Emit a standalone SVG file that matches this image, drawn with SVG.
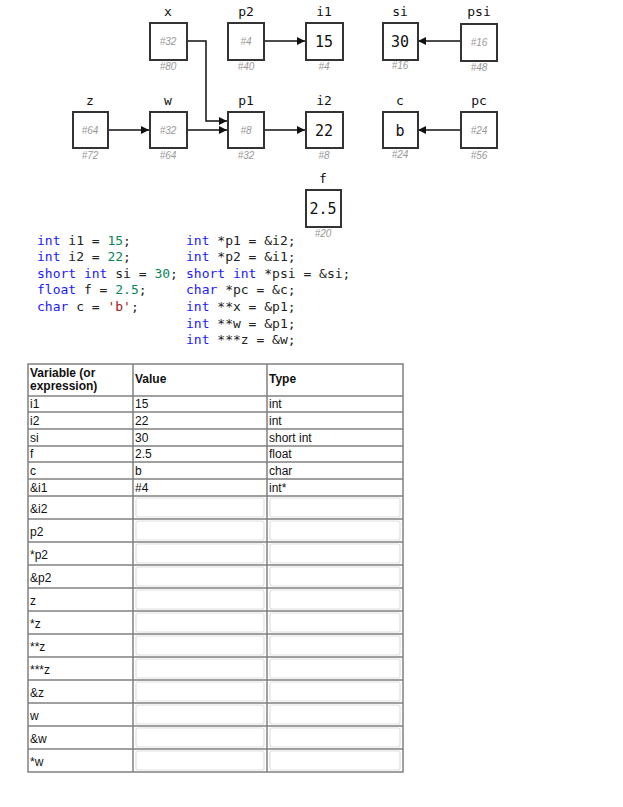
<svg xmlns="http://www.w3.org/2000/svg" width="623" height="807" viewBox="0 0 623 807">
<defs>
<style>
.box{fill:#fff;stroke:#333;stroke-width:2}
.nm{font-family:"DejaVu Sans Mono",monospace;font-size:13px;fill:#111;text-anchor:middle}
.val{font-family:"DejaVu Sans Mono",monospace;font-size:15px;fill:#111;text-anchor:middle}
.ad{font-family:"Liberation Sans",Arial,sans-serif;font-size:10px;font-style:italic;fill:#999;text-anchor:middle}
.cn{stroke:#111;stroke-width:1.5;fill:none;marker-end:url(#ah)}
.code{font-family:"DejaVu Sans Mono",monospace;font-size:13px;fill:#222}
.kw{fill:#1a1aff}.num{fill:#098658}.str{fill:#a31515}
.tb{font-family:"Liberation Sans",Arial,sans-serif;font-size:12px;fill:#111}
.th{font-family:"Liberation Sans",Arial,sans-serif;font-size:12px;font-weight:bold;fill:#111}
.gl{stroke:#808080;stroke-width:1.5}
.inp{fill:#fff;stroke:#e0e0e0;stroke-width:1.2}
</style>
<marker id="ah" viewBox="0 0 10 10" refX="10" refY="5" markerWidth="12" markerHeight="8" markerUnits="userSpaceOnUse" orient="auto"><path d="M0,0L10,5L0,10z" fill="#111"/></marker>
</defs>
<g id="connectors">
<path class="cn" d="M187,41H206V121H227"/>
<path class="cn" d="M264,41H305"/>
<path class="cn" d="M108,130H149"/>
<path class="cn" d="M187,130H227"/>
<path class="cn" d="M264,130H305"/>
<path class="cn" d="M461,41H418"/>
<path class="cn" d="M461,130H418"/>
</g>
<g id="node-x"><text class="nm" x="168" y="16">x</text><rect class="box" x="150" y="23" width="37" height="37"/><text class="ad" x="168" y="45">#32</text><text class="ad" x="168" y="70">#80</text></g>
<g id="node-p2"><text class="nm" x="246" y="16">p2</text><rect class="box" x="228" y="23" width="36" height="37"/><text class="ad" x="246" y="45">#4</text><text class="ad" x="246" y="70">#40</text></g>
<g id="node-i1"><text class="nm" x="324" y="16">i1</text><rect class="box" x="306" y="23" width="37" height="37"/><text class="val" x="324" y="47">15</text><text class="ad" x="324" y="70">#4</text></g>
<g id="node-si"><text class="nm" x="400" y="16">si</text><rect class="box" x="383" y="23" width="35" height="37"/><text class="val" x="400" y="47">30</text><text class="ad" x="400" y="69">#16</text></g>
<g id="node-psi"><text class="nm" x="479" y="16">psi</text><rect class="box" x="461" y="24" width="36" height="37"/><text class="ad" x="479" y="46">#16</text><text class="ad" x="479" y="71">#48</text></g>
<g id="node-z"><text class="nm" x="90" y="105">z</text><rect class="box" x="73" y="112" width="35" height="36"/><text class="ad" x="90" y="134">#64</text><text class="ad" x="90" y="159">#72</text></g>
<g id="node-w"><text class="nm" x="168" y="105">w</text><rect class="box" x="150" y="112" width="37" height="36"/><text class="ad" x="168" y="134">#32</text><text class="ad" x="168" y="159">#64</text></g>
<g id="node-p1"><text class="nm" x="246" y="105">p1</text><rect class="box" x="228" y="112" width="36" height="36"/><text class="ad" x="246" y="134">#8</text><text class="ad" x="246" y="159">#32</text></g>
<g id="node-i2"><text class="nm" x="324" y="105">i2</text><rect class="box" x="306" y="112" width="37" height="36"/><text class="val" x="324" y="136">22</text><text class="ad" x="324" y="159">#8</text></g>
<g id="node-c"><text class="nm" x="400" y="105">c</text><rect class="box" x="383" y="112" width="35" height="36"/><text class="val" x="400" y="136">b</text><text class="ad" x="400" y="158">#24</text></g>
<g id="node-pc"><text class="nm" x="479" y="105">pc</text><rect class="box" x="461" y="112" width="36" height="36"/><text class="ad" x="479" y="134">#24</text><text class="ad" x="479" y="159">#56</text></g>
<g id="node-f"><text class="nm" x="323" y="183">f</text><rect class="box" x="306" y="190" width="35" height="37"/><text class="val" x="323" y="214">2.5</text><text class="ad" x="323" y="237">#20</text></g>
<g id="code">
<text class="code" x="37" y="245"><tspan class="kw">int</tspan> i1 = <tspan class="num">15</tspan>;</text>
<text class="code" x="37" y="261"><tspan class="kw">int</tspan> i2 = <tspan class="num">22</tspan>;</text>
<text class="code" x="37" y="278"><tspan class="kw">short</tspan> <tspan class="kw">int</tspan> si = <tspan class="num">30</tspan>;</text>
<text class="code" x="37" y="294"><tspan class="kw">float</tspan> f = <tspan class="num">2.5</tspan>;</text>
<text class="code" x="37" y="311"><tspan class="kw">char</tspan> c = <tspan class="str">'b'</tspan>;</text>
<text class="code" x="186" y="245"><tspan class="kw">int</tspan> *p1 = &amp;i2;</text>
<text class="code" x="186" y="261"><tspan class="kw">int</tspan> *p2 = &amp;i1;</text>
<text class="code" x="186" y="278"><tspan class="kw">short</tspan> <tspan class="kw">int</tspan> *psi = &amp;si;</text>
<text class="code" x="186" y="294"><tspan class="kw">char</tspan> *pc = &amp;c;</text>
<text class="code" x="186" y="311"><tspan class="kw">int</tspan> **x = &amp;p1;</text>
<text class="code" x="186" y="328"><tspan class="kw">int</tspan> **w = &amp;p1;</text>
<text class="code" x="186" y="344"><tspan class="kw">int</tspan> ***z = &amp;w;</text>
</g>
<g id="table">
<rect x="28" y="364" width="375" height="408" fill="#fff" class="gl"/>
<line class="gl" x1="133" y1="364" x2="133" y2="772"/>
<line class="gl" x1="267" y1="364" x2="267" y2="772"/>
<g class="gl">
<line x1="28" y1="396" x2="403" y2="396"/><line x1="28" y1="412" x2="403" y2="412"/><line x1="28" y1="429" x2="403" y2="429"/><line x1="28" y1="446" x2="403" y2="446"/><line x1="28" y1="462" x2="403" y2="462"/><line x1="28" y1="479" x2="403" y2="479"/><line x1="28" y1="496" x2="403" y2="496"/>
<line x1="28" y1="519" x2="403" y2="519"/><line x1="28" y1="542" x2="403" y2="542"/><line x1="28" y1="565" x2="403" y2="565"/><line x1="28" y1="588" x2="403" y2="588"/><line x1="28" y1="611" x2="403" y2="611"/><line x1="28" y1="634" x2="403" y2="634"/><line x1="28" y1="657" x2="403" y2="657"/><line x1="28" y1="680" x2="403" y2="680"/><line x1="28" y1="703" x2="403" y2="703"/><line x1="28" y1="726" x2="403" y2="726"/><line x1="28" y1="749" x2="403" y2="749"/>
</g>
<text class="th" x="30" y="377">Variable (or</text><text class="th" x="30" y="390">expression)</text>
<text class="th" x="135" y="383">Value</text><text class="th" x="269" y="383">Type</text>
<text class="tb" x="30" y="408">i1</text><text class="tb" x="135" y="408">15</text><text class="tb" x="269" y="408">int</text>
<text class="tb" x="30" y="425">i2</text><text class="tb" x="135" y="425">22</text><text class="tb" x="269" y="425">int</text>
<text class="tb" x="30" y="442">si</text><text class="tb" x="135" y="442">30</text><text class="tb" x="269" y="442">short int</text>
<text class="tb" x="30" y="458">f</text><text class="tb" x="135" y="458">2.5</text><text class="tb" x="269" y="458">float</text>
<text class="tb" x="30" y="475">c</text><text class="tb" x="135" y="475">b</text><text class="tb" x="269" y="475">char</text>
<text class="tb" x="30" y="492">&amp;i1</text><text class="tb" x="135" y="492">#4</text><text class="tb" x="269" y="492">int*</text>
<g class="tb">
<text x="30" y="513">&amp;i2</text><text x="30" y="536">p2</text><text x="30" y="559">*p2</text><text x="30" y="582">&amp;p2</text><text x="30" y="605">z</text><text x="30" y="628">*z</text><text x="30" y="651">**z</text><text x="30" y="674">***z</text><text x="30" y="697">&amp;z</text><text x="30" y="720">w</text><text x="30" y="743">&amp;w</text><text x="30" y="766">*w</text>
</g>
<g class="inp">
<rect x="136" y="498" width="128" height="19" rx="2"/><rect x="270" y="498" width="130" height="19" rx="2"/>
<rect x="136" y="521" width="128" height="19" rx="2"/><rect x="270" y="521" width="130" height="19" rx="2"/>
<rect x="136" y="544" width="128" height="19" rx="2"/><rect x="270" y="544" width="130" height="19" rx="2"/>
<rect x="136" y="567" width="128" height="19" rx="2"/><rect x="270" y="567" width="130" height="19" rx="2"/>
<rect x="136" y="590" width="128" height="19" rx="2"/><rect x="270" y="590" width="130" height="19" rx="2"/>
<rect x="136" y="613" width="128" height="19" rx="2"/><rect x="270" y="613" width="130" height="19" rx="2"/>
<rect x="136" y="636" width="128" height="19" rx="2"/><rect x="270" y="636" width="130" height="19" rx="2"/>
<rect x="136" y="659" width="128" height="19" rx="2"/><rect x="270" y="659" width="130" height="19" rx="2"/>
<rect x="136" y="682" width="128" height="19" rx="2"/><rect x="270" y="682" width="130" height="19" rx="2"/>
<rect x="136" y="705" width="128" height="19" rx="2"/><rect x="270" y="705" width="130" height="19" rx="2"/>
<rect x="136" y="728" width="128" height="19" rx="2"/><rect x="270" y="728" width="130" height="19" rx="2"/>
<rect x="136" y="751" width="128" height="19" rx="2"/><rect x="270" y="751" width="130" height="19" rx="2"/>
</g>
</g>
</svg>
